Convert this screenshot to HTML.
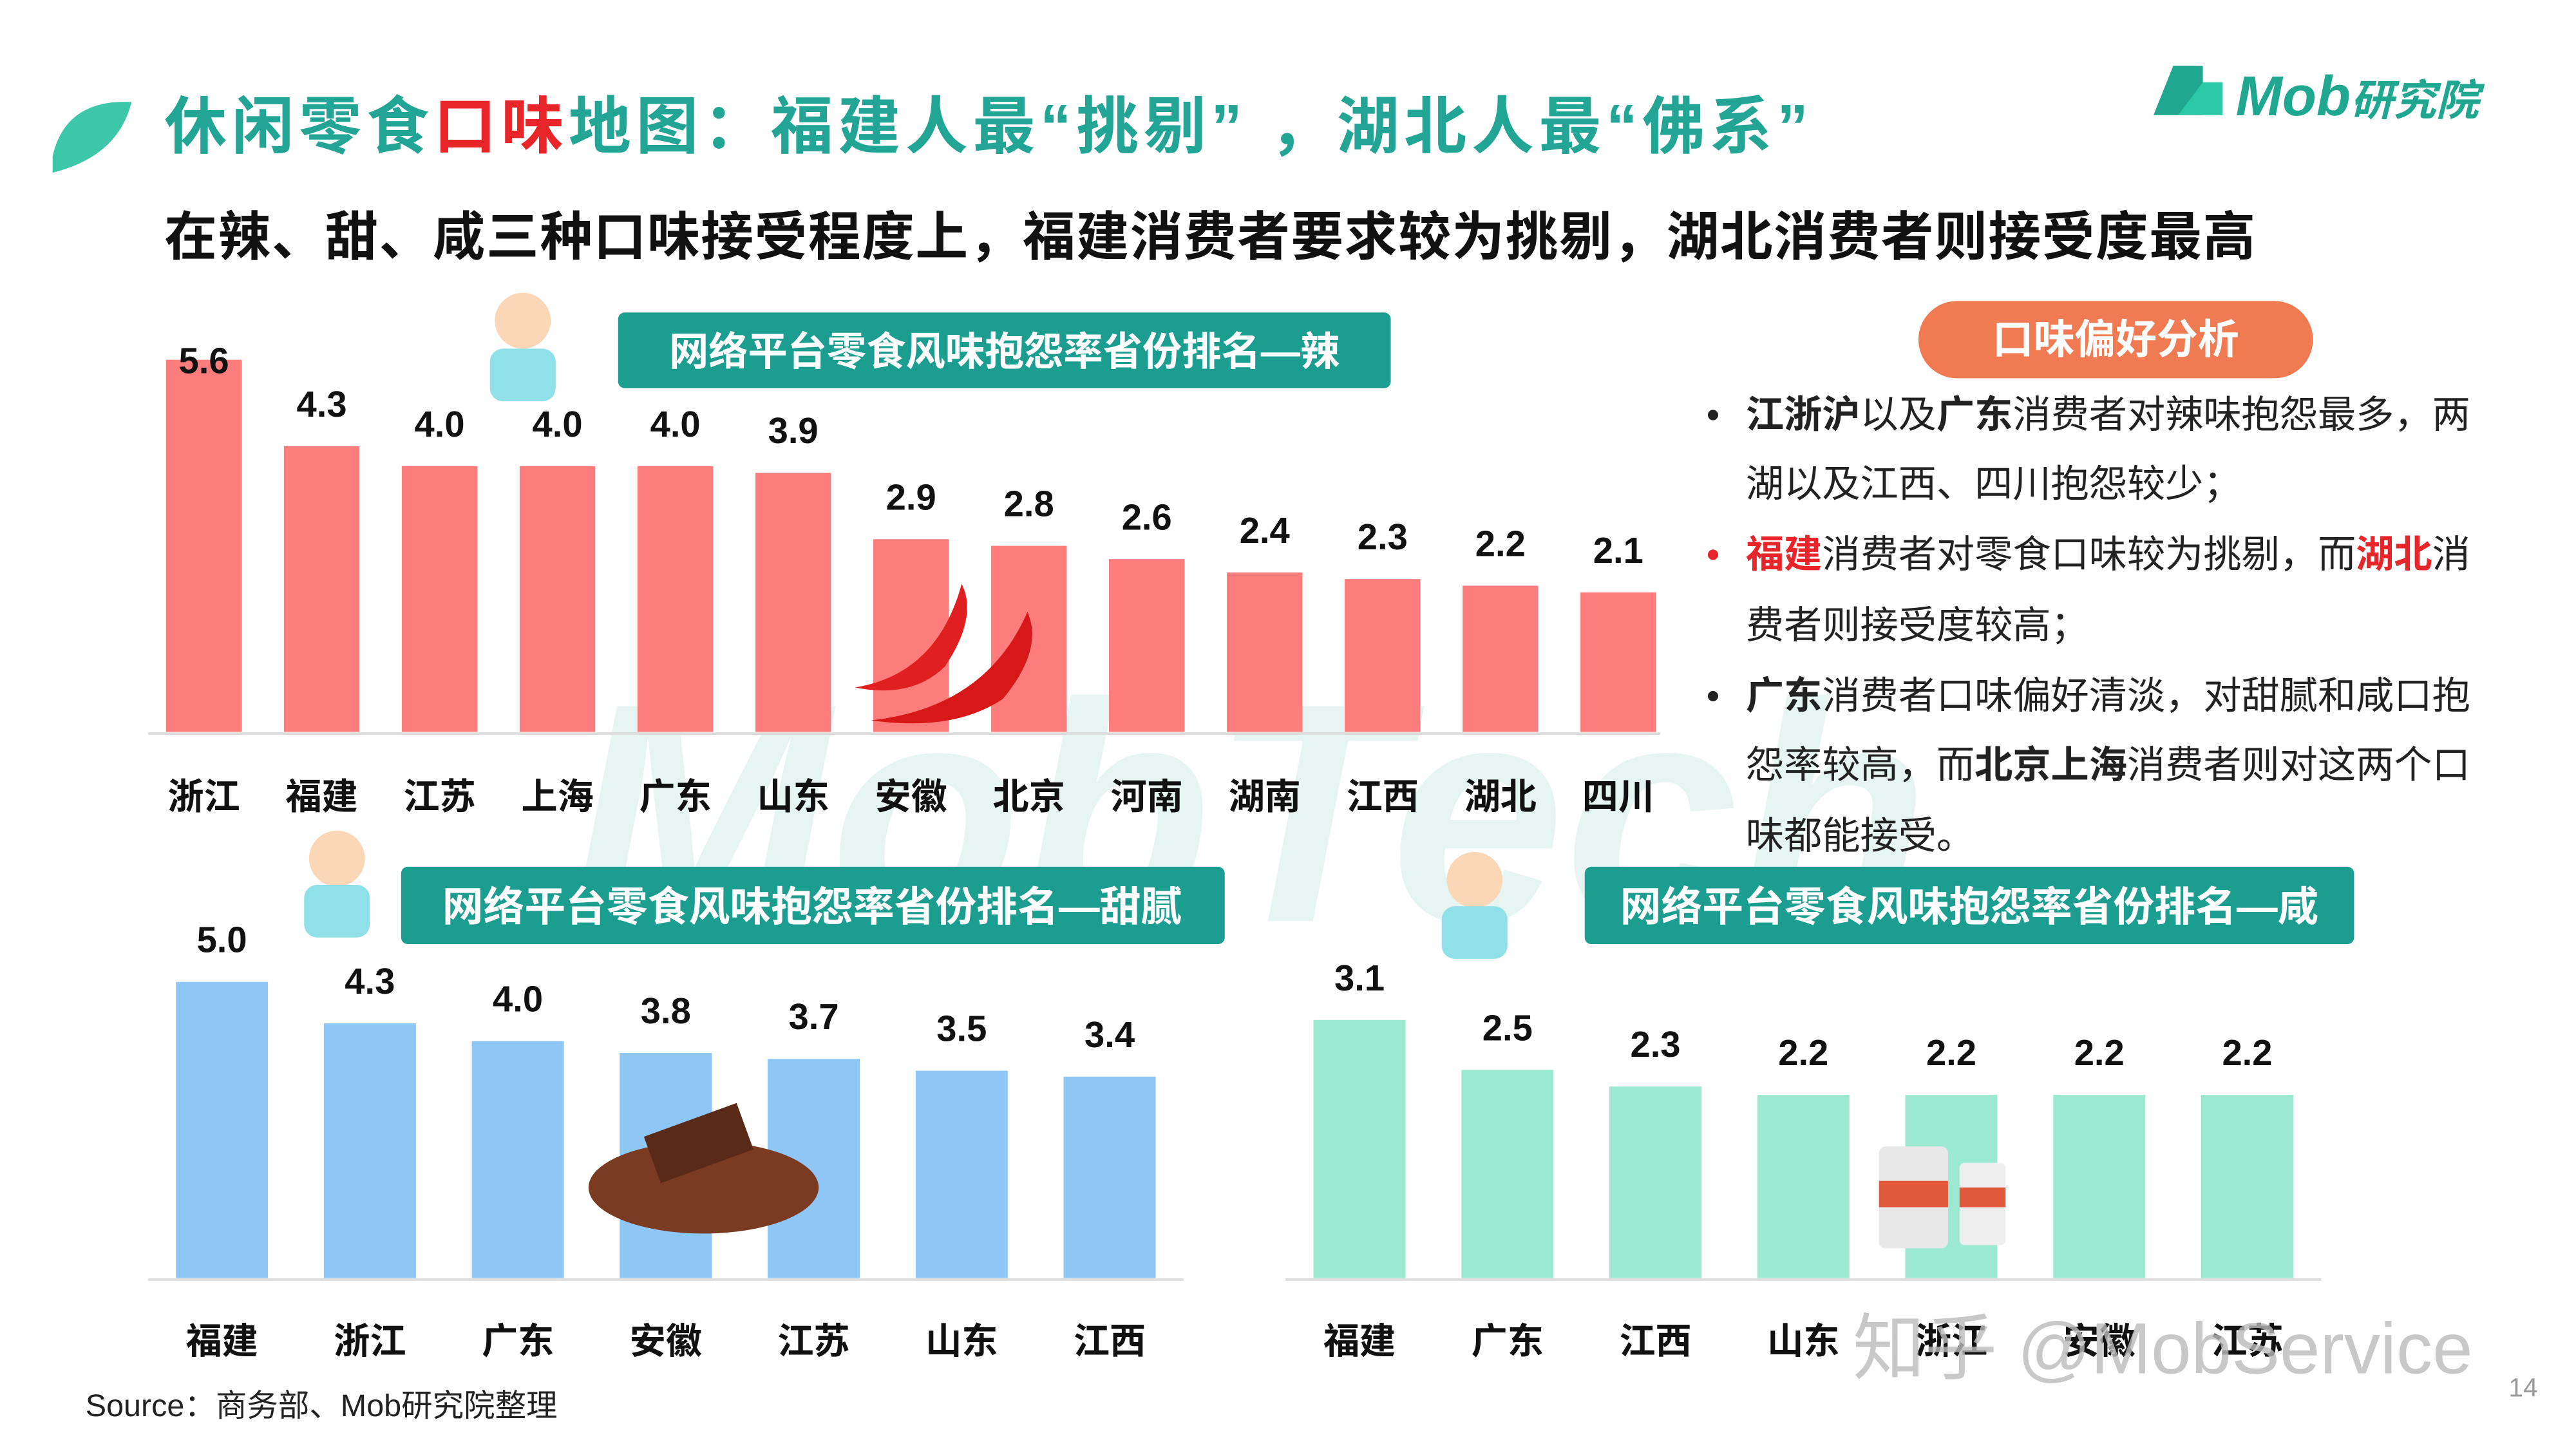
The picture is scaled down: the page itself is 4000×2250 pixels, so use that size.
<!DOCTYPE html>
<html><head><meta charset="utf-8"><style>
html,body{margin:0;padding:0;background:#fff;}
svg{display:block;font-family:"Liberation Sans","Noto Sans CJK SC",sans-serif;}
</style></head><body>
<svg id="root" width="4000" height="2250" viewBox="0 0 1567 881" preserveAspectRatio="none" xmlns="http://www.w3.org/2000/svg">
<rect width="1567" height="881" fill="#fff"/>
<text x="760" y="560" font-size="190" font-weight="bold" font-style="italic" fill="#e6f5f1" text-anchor="middle">MobTech</text>
<path d="M32 95 Q40 60 80 62 Q72 95 32 105 Z" fill="#3cc7a8"/>
<text x="100" y="90" font-size="38" font-weight="bold" fill="#22a595" textLength="1000" lengthAdjust="spacing">休闲零食<tspan fill="#e8262a">口味</tspan>地图：福建人最“挑剔” ，湖北人最“佛系”</text>
<g>
<path d="M1310 70 L1322 40 L1340 40 L1340 70 Z" fill="#1fa88f"/><path d="M1325 70 L1340 50 L1352 50 L1352 70Z" fill="#2bc9a6"/>
<text x="1360" y="70" font-size="34" font-weight="bold" font-style="italic" fill="#1fa88f">Mob<tspan font-size="26">研究院</tspan></text></g>
<text x="100" y="155" font-size="32" font-weight="bold" fill="#111" textLength="1272" lengthAdjust="spacing">在辣、甜、咸三种口味接受程度上，福建消费者要求较为挑剔，湖北消费者则接受度最高</text>

<g id="c1"></g>
<g id="c2"></g>
<g id="c3"></g>

<g><rect x="376" y="190" width="470" height="46" rx="4" fill="#1b9e8f"/><text x="611" y="222" font-size="24" font-weight="bold" fill="#fff" text-anchor="middle">网络平台零食风味抱怨率省份排名—辣</text></g>
<g><rect x="244" y="527" width="501" height="47" rx="4" fill="#1b9e8f"/><text x="494" y="560" font-size="25" font-weight="bold" fill="#fff" text-anchor="middle">网络平台零食风味抱怨率省份排名—甜腻</text></g>
<g><rect x="964" y="527" width="468" height="47" rx="4" fill="#1b9e8f"/><text x="1198" y="560" font-size="25" font-weight="bold" fill="#fff" text-anchor="middle">网络平台零食风味抱怨率省份排名—咸</text></g>

<g><circle cx="318" cy="195" r="17" fill="#fbd7b8"/><rect x="298" y="212" width="40" height="32" rx="8" fill="#8fe0e8"/></g>
<g><circle cx="205" cy="522" r="17" fill="#fbd7b8"/><rect x="185" y="538" width="40" height="32" rx="8" fill="#8fe0e8"/></g>
<g><circle cx="897" cy="535" r="17" fill="#fbd7b8"/><rect x="877" y="551" width="40" height="32" rx="8" fill="#8fe0e8"/></g>
<g><path d="M520 418 Q570 410 585 355 Q595 375 575 405 Q555 425 520 418Z" fill="#e02020"/><path d="M530 438 Q600 430 625 372 Q635 395 610 425 Q580 445 530 438Z" fill="#d81818"/></g>
<g><ellipse cx="428" cy="722" rx="70" ry="28" fill="#7a3b22"/><rect x="395" y="680" width="60" height="30" fill="#5a2a18" transform="rotate(-20 425 695)"/></g>
<g><rect x="1143" y="697" width="42" height="62" rx="4" fill="#e8e8e8"/><rect x="1143" y="718" width="42" height="16" fill="#e0593a"/><rect x="1192" y="707" width="28" height="50" rx="3" fill="#eee"/><rect x="1192" y="722" width="28" height="12" fill="#e0593a"/></g>

<g>
<rect x="1167" y="183" width="240" height="47" rx="23.5" fill="#f07a52"/>
<text x="1287" y="215" font-size="25" font-weight="bold" fill="#fff" text-anchor="middle">口味偏好分析</text>
<g font-size="23.2" fill="#222">
<text x="1038" y="260">•</text><text x="1062" y="260"><tspan font-weight="bold">江浙沪</tspan>以及<tspan font-weight="bold">广东</tspan>消费者对辣味抱怨最多，两</text>
<text x="1062" y="302">湖以及江西、四川抱怨较少；</text>
<text x="1038" y="345" fill="#e8262a">•</text><text x="1062" y="345"><tspan font-weight="bold" fill="#e8262a">福建</tspan>消费者对零食口味较为挑剔，而<tspan font-weight="bold" fill="#e8262a">湖北</tspan>消</text>
<text x="1062" y="388">费者则接受度较高；</text>
<text x="1038" y="431">•</text><text x="1062" y="431"><tspan font-weight="bold">广东</tspan>消费者口味偏好清淡，对甜腻和咸口抱</text>
<text x="1062" y="473">怨率较高，而<tspan font-weight="bold">北京上海</tspan>消费者则对这两个口</text>
<text x="1062" y="516">味都能接受。</text>
</g></g>
<text x="52" y="861" font-size="19" fill="#222">Source：商务部、Mob研究院整理</text>
<text x="1526" y="849" font-size="16" fill="#999">14</text>
<text x="1127" y="835" font-size="44" fill="#bbb" opacity="0.8">知乎 @MobService</text>
</svg>
<script>
const spicyCats=["浙江","福建","江苏","上海","广东","山东","安徽","北京","河南","湖南","江西","湖北","四川"];
const spicyVals=[5.6,4.3,4.0,4.0,4.0,3.9,2.9,2.8,2.6,2.4,2.3,2.2,2.1];
const sweetCats=["福建","浙江","广东","安徽","江苏","山东","江西"];
const sweetVals=[5.0,4.3,4.0,3.8,3.7,3.5,3.4];
const saltyCats=["福建","广东","江西","山东","浙江","安徽","江苏"];
const saltyVals=[3.1,2.5,2.3,2.2,2.2,2.2,2.2];
const NS="http://www.w3.org/2000/svg";
function mk(tag,attrs,parent,txt){const e=document.createElementNS(NS,tag);for(const k in attrs)e.setAttribute(k,attrs[k]);if(txt!==undefined)e.textContent=txt;parent.appendChild(e);return e;}
function draw(gid,cats,vals,o){
 const g=document.getElementById(gid);
 const y=v=>o.base-v*o.scale;
 const line=mk('line',{x1:o.ax0,x2:o.ax1,y1:o.base+1,y2:o.base+1,stroke:'#ddd','stroke-width':1.5},g);
 
 
 cats.forEach((c,i)=>{
  const x=o.x0+i*o.pitch;
  const r=mk('rect',{x:x,y:y(vals[i]),width:o.w,height:vals[i]*o.scale,fill:o.color},g);
  
  
  const ly=Math.max(y(vals[i])-18,o.minLab);
  const t=mk('text',{x:x+o.w/2,y:ly,'font-size':22,'font-weight':'bold','text-anchor':'middle',fill:'#111'},g,vals[i].toFixed(1));
  
  
  const l=mk('text',{x:x+o.w/2,y:o.labY,'font-size':22,'font-weight':'bold','text-anchor':'middle',fill:'#111'},g,c);
  
  
 });
}
draw('c1',spicyCats,spicyVals,{x0:101,pitch:71.7,w:46,base:445,scale:40.4,color:'#fd7d7d',ax0:90,ax1:1010,labY:492,minLab:227});
draw('c2',sweetCats,sweetVals,{x0:107,pitch:90,w:56,base:777,scale:36,color:'#8ec7f6',ax0:90,ax1:720,labY:823,minLab:0});
draw('c3',saltyCats,saltyVals,{x0:799,pitch:90,w:56,base:777,scale:50.6,color:'#9be9d1',ax0:782,ax1:1412,labY:823,minLab:0});
</script>
</body></html>
